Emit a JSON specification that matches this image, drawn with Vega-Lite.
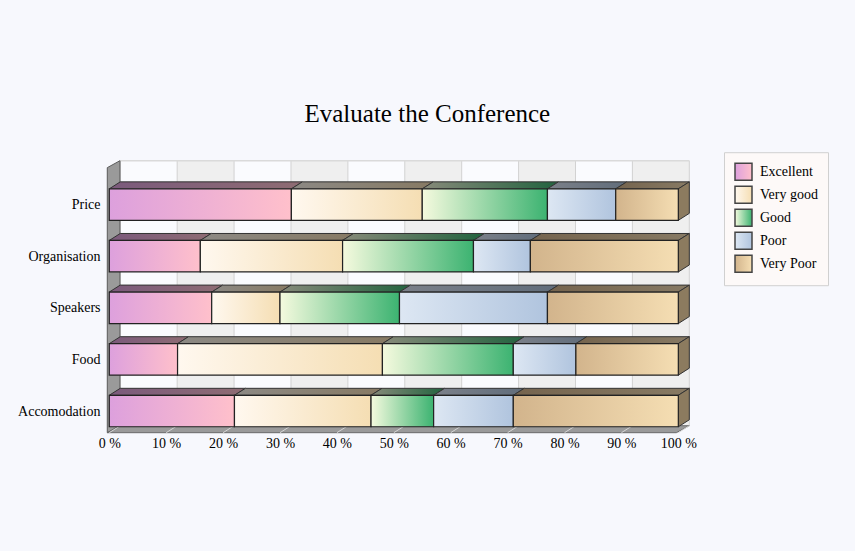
{
  "$schema": "https://vega.github.io/schema/vega-lite/v6.json",
  "width": 582.7,
  "height": 272,
  "autosize": "none",
  "padding": {"left": 107, "top": 160.7, "right": 165.3, "bottom": 118.3},
  "background": "#f7f8fd",
  "title": {
    "text": "Evaluate the Conference",
    "font": "Liberation Serif",
    "fontSize": 25,
    "fontWeight": "normal",
    "color": "#000000",
    "frame": "group",
    "anchor": "middle",
    "baseline": "alphabetic",
    "dx": 29,
    "offset": 5
  },
  "datasets": {
    "survey": [
      {"question": "Price", "rating": "Excellent", "pct": 32},
      {"question": "Price", "rating": "Very good", "pct": 23},
      {"question": "Price", "rating": "Good", "pct": 22},
      {"question": "Price", "rating": "Poor", "pct": 12},
      {"question": "Price", "rating": "Very Poor", "pct": 11},
      {"question": "Organisation", "rating": "Excellent", "pct": 16},
      {"question": "Organisation", "rating": "Very good", "pct": 25},
      {"question": "Organisation", "rating": "Good", "pct": 23},
      {"question": "Organisation", "rating": "Poor", "pct": 10},
      {"question": "Organisation", "rating": "Very Poor", "pct": 26},
      {"question": "Speakers", "rating": "Excellent", "pct": 18},
      {"question": "Speakers", "rating": "Very good", "pct": 12},
      {"question": "Speakers", "rating": "Good", "pct": 21},
      {"question": "Speakers", "rating": "Poor", "pct": 26},
      {"question": "Speakers", "rating": "Very Poor", "pct": 23},
      {"question": "Food", "rating": "Excellent", "pct": 12},
      {"question": "Food", "rating": "Very good", "pct": 36},
      {"question": "Food", "rating": "Good", "pct": 23},
      {"question": "Food", "rating": "Poor", "pct": 11},
      {"question": "Food", "rating": "Very Poor", "pct": 18},
      {"question": "Accomodation", "rating": "Excellent", "pct": 22},
      {"question": "Accomodation", "rating": "Very good", "pct": 24},
      {"question": "Accomodation", "rating": "Good", "pct": 11},
      {"question": "Accomodation", "rating": "Poor", "pct": 14},
      {"question": "Accomodation", "rating": "Very Poor", "pct": 29}
    ],
    "ticks": [
      {"v": 0}, {"v": 10}, {"v": 20}, {"v": 30}, {"v": 40}, {"v": 50},
      {"v": 60}, {"v": 70}, {"v": 80}, {"v": 90}, {"v": 100}
    ],
    "planes": [{"d": 0}, {"d": 1}]
  },
  "layer": [
    {
      "data": {"name": "ticks"},
      "transform": [
        {"filter": "datum.v < 100"},
        {"calculate": "datum.v + 1.93", "as": "bx0"},
        {"calculate": "datum.v + 11.93", "as": "bx1"}
      ],
      "mark": {"type": "rect"},
      "encoding": {
        "x": {
          "field": "bx0", "type": "quantitative", "title": null,
          "scale": {"domain": [-0.4, 102], "nice": false, "zero": false},
          "axis": {
            "values": [0, 10, 20, 30, 40, 50, 60, 70, 80, 90, 100],
            "labelExpr": "datum.value + ' %'",
            "labelPadding": 4,
            "labelDx": -2.5,
            "labelFlush": false,
            "labelOverlap": false
          }
        },
        "x2": {"field": "bx1"},
        "y": {
          "datum": -0.285, "type": "quantitative",
          "scale": {"domain": [-0.42, 4.85], "nice": false, "zero": false},
          "axis": {
            "title": null,
            "values": [0, 1, 2, 3, 4],
            "labelExpr": "['Accomodation', 'Food', 'Speakers', 'Organisation', 'Price'][datum.value]",
            "labelPadding": 7,
            "labelOverlap": false
          }
        },
        "y2": {"datum": 4.85},
        "fill": {
          "condition": {"test": "datum.v % 20 == 10", "value": "#efefef"},
          "value": "#fafbfe"
        }
      }
    },
    {
      "data": {"name": "ticks"},
      "transform": [{"calculate": "datum.v + 1.93", "as": "gx"}],
      "mark": {"type": "rule", "color": "#d2d2d2", "strokeWidth": 1},
      "encoding": {
        "x": {"field": "gx", "type": "quantitative", "title": null, "scale": {"domain": [-0.4, 102], "nice": false, "zero": false}},
        "y": {"datum": -0.285, "type": "quantitative", "scale": {"domain": [-0.42, 4.85], "nice": false, "zero": false}},
        "y2": {"datum": 4.85}
      }
    },
    {
      "data": {"values": [{}]},
      "mark": {"type": "rule", "color": "#dadada", "strokeWidth": 1.5},
      "encoding": {
        "x": {"datum": 1.93, "type": "quantitative", "scale": {"domain": [-0.4, 102], "nice": false, "zero": false}},
        "x2": {"datum": 101.93},
        "y": {"datum": 4.85, "type": "quantitative", "scale": {"domain": [-0.42, 4.85], "nice": false, "zero": false}}
      }
    },
    {
      "data": {"name": "planes"},
      "transform": [
        {"calculate": "-0.35 + datum.d * 2.23", "as": "wx"},
        {"calculate": "-0.42 + datum.d * 0.135", "as": "wy0"},
        {"calculate": "4.715 + datum.d * 0.135", "as": "wy1"}
      ],
      "mark": {"type": "area", "orient": "vertical", "fill": "#9a9a9a", "stroke": "#5a5a5a", "strokeWidth": 1},
      "encoding": {
        "x": {"field": "wx", "type": "quantitative", "title": null, "scale": {"domain": [-0.4, 102], "nice": false, "zero": false}},
        "y": {"field": "wy0", "type": "quantitative", "title": null, "scale": {"domain": [-0.42, 4.85], "nice": false, "zero": false}},
        "y2": {"field": "wy1"}
      }
    },
    {
      "data": {"name": "planes"},
      "transform": [
        {"calculate": "-0.42 + datum.d * 0.135", "as": "fy"},
        {"calculate": "-0.35 + datum.d * 2.23", "as": "fx0"},
        {"calculate": "99.65 + datum.d * 2.28", "as": "fx1"}
      ],
      "mark": {"type": "area", "orient": "horizontal", "fill": "#9a9a9a", "stroke": "#6a6a6a", "strokeWidth": 1},
      "encoding": {
        "y": {"field": "fy", "type": "quantitative", "title": null, "scale": {"domain": [-0.42, 4.85], "nice": false, "zero": false}},
        "x": {"field": "fx0", "type": "quantitative", "title": null, "scale": {"domain": [-0.4, 102], "nice": false, "zero": false}},
        "x2": {"field": "fx1"}
      }
    },
    {
      "data": {"name": "ticks"},
      "transform": [{"calculate": "datum.v + 1.93", "as": "gx"}],
      "mark": {"type": "rule", "color": "#d6d6d6", "strokeWidth": 1},
      "encoding": {
        "x": {"field": "v", "type": "quantitative", "title": null, "scale": {"domain": [-0.4, 102], "nice": false, "zero": false}},
        "x2": {"field": "gx"},
        "y": {"datum": -0.42, "type": "quantitative", "scale": {"domain": [-0.42, 4.85], "nice": false, "zero": false}},
        "y2": {"datum": -0.285}
      }
    },
    {
      "data": {"name": "survey"},
      "transform": [
        {"calculate": "indexof(['Excellent', 'Very good', 'Good', 'Poor', 'Very Poor'], datum.rating)", "as": "ord"},
        {"calculate": "indexof(['Accomodation', 'Food', 'Speakers', 'Organisation', 'Price'], datum.question)", "as": "idx"},
        {"stack": "pct", "groupby": ["question"], "sort": [{"field": "ord", "order": "ascending"}], "as": ["x0", "x1"]}
      ],
      "layer": [
        {
          "transform": [
            {"calculate": "0", "as": "front"},
            {"calculate": "1", "as": "back"},
            {"fold": ["front", "back"], "as": ["plane", "d"]},
            {"calculate": "datum.x0 + datum.d * 1.93", "as": "tx0"},
            {"calculate": "datum.x1 + datum.d * 1.93", "as": "tx1"},
            {"calculate": "datum.idx + 0.305 + datum.d * 0.135", "as": "ty"}
          ],
          "mark": {"type": "area", "orient": "horizontal", "stroke": "#333333", "strokeWidth": 1},
          "encoding": {
            "y": {"field": "ty", "type": "quantitative", "title": null, "scale": {"domain": [-0.42, 4.85], "nice": false, "zero": false}},
            "x": {"field": "tx0", "type": "quantitative", "title": null, "scale": {"domain": [-0.4, 102], "nice": false, "zero": false}},
            "x2": {"field": "tx1"},
            "detail": [{"field": "question"}, {"field": "rating"}],
            "fill": {
              "condition": [
                {"test": "datum.rating === 'Excellent'", "value": {"gradient": "linear", "stops": [{"offset": 0, "color": "#7b5a7c"}, {"offset": 1, "color": "#8e6c73"}]}},
                {"test": "datum.rating === 'Very good'", "value": {"gradient": "linear", "stops": [{"offset": 0, "color": "#8c8984"}, {"offset": 1, "color": "#877a64"}]}},
                {"test": "datum.rating === 'Good'", "value": {"gradient": "linear", "stops": [{"offset": 0, "color": "#878a7a"}, {"offset": 1, "color": "#22633f"}]}},
                {"test": "datum.rating === 'Poor'", "value": {"gradient": "linear", "stops": [{"offset": 0, "color": "#7b8089"}, {"offset": 1, "color": "#616d7b"}]}}
              ],
              "value": {"gradient": "linear", "stops": [{"offset": 0, "color": "#75644e"}, {"offset": 1, "color": "#877a64"}]}
            }
          }
        },
        {
          "transform": [
            {"filter": "datum.rating === 'Very Poor'"},
            {"calculate": "0", "as": "front"},
            {"calculate": "1", "as": "back"},
            {"fold": ["front", "back"], "as": ["plane", "d"]},
            {"calculate": "datum.x1 + datum.d * 1.93", "as": "sx"},
            {"calculate": "datum.idx - 0.305 + datum.d * 0.135", "as": "sy0"},
            {"calculate": "datum.idx + 0.305 + datum.d * 0.135", "as": "sy1"}
          ],
          "mark": {"type": "area", "orient": "vertical", "fill": "#8c7b5f", "stroke": "#333333", "strokeWidth": 1},
          "encoding": {
            "x": {"field": "sx", "type": "quantitative", "title": null, "scale": {"domain": [-0.4, 102], "nice": false, "zero": false}},
            "y": {"field": "sy0", "type": "quantitative", "title": null, "scale": {"domain": [-0.42, 4.85], "nice": false, "zero": false}},
            "y2": {"field": "sy1"},
            "detail": {"field": "question"}
          }
        },
        {
          "transform": [
            {"calculate": "datum.idx - 0.305", "as": "ry0"},
            {"calculate": "datum.idx + 0.305", "as": "ry1"}
          ],
          "mark": {"type": "rect", "stroke": "#222222", "strokeWidth": 1.2},
          "encoding": {
            "x": {"field": "x0", "type": "quantitative", "title": null, "scale": {"domain": [-0.4, 102], "nice": false, "zero": false}},
            "x2": {"field": "x1"},
            "y": {"field": "ry0", "type": "quantitative", "title": null, "scale": {"domain": [-0.42, 4.85], "nice": false, "zero": false}},
            "y2": {"field": "ry1"},
            "fill": {
              "field": "rating",
              "type": "nominal",
              "scale": {
                "domain": ["Excellent", "Very good", "Good", "Poor", "Very Poor"],
                "range": [
                  {"expr": "{gradient: 'linear', stops: [{offset: 0, color: '#dda0dd'}, {offset: 1, color: '#ffc0cb'}]}"},
                  {"expr": "{gradient: 'linear', stops: [{offset: 0, color: '#fff8ef'}, {offset: 1, color: '#f5deb3'}]}"},
                  {"expr": "{gradient: 'linear', stops: [{offset: 0, color: '#f5fade'}, {offset: 1, color: '#3cb371'}]}"},
                  {"expr": "{gradient: 'linear', stops: [{offset: 0, color: '#dde7f3'}, {offset: 1, color: '#b0c4de'}]}"},
                  {"expr": "{gradient: 'linear', stops: [{offset: 0, color: '#d2b48c'}, {offset: 1, color: '#f5deb3'}]}"}
                ]
              },
              "legend": {
                "title": null,
                "orient": "none",
                "legendX": 617,
                "legendY": -8.5,
                "symbolType": "square",
                "symbolSize": 289,
                "symbolStrokeColor": "#444444",
                "symbolStrokeWidth": 1.5,
                "symbolOpacity": 1,
                "labelFont": "Liberation Serif",
                "labelFontSize": 14,
                "labelColor": "#000000",
                "labelOffset": 7,
                "rowPadding": 0,
                "padding": 10,
                "fillColor": "#fdf9f8",
                "strokeColor": "#d0d0d0",
                "labelExpr": "datum.label === 'Excellent' ? datum.label : '\u00a0' + datum.label"
              }
            }
          }
        }
      ]
    }
  ],
  "config": {
    "view": {"stroke": null},
    "axis": {
      "grid": false,
      "domain": false,
      "ticks": false,
      "labelFont": "Liberation Serif",
      "labelFontSize": 14,
      "labelColor": "#000000"
    }
  }
}
